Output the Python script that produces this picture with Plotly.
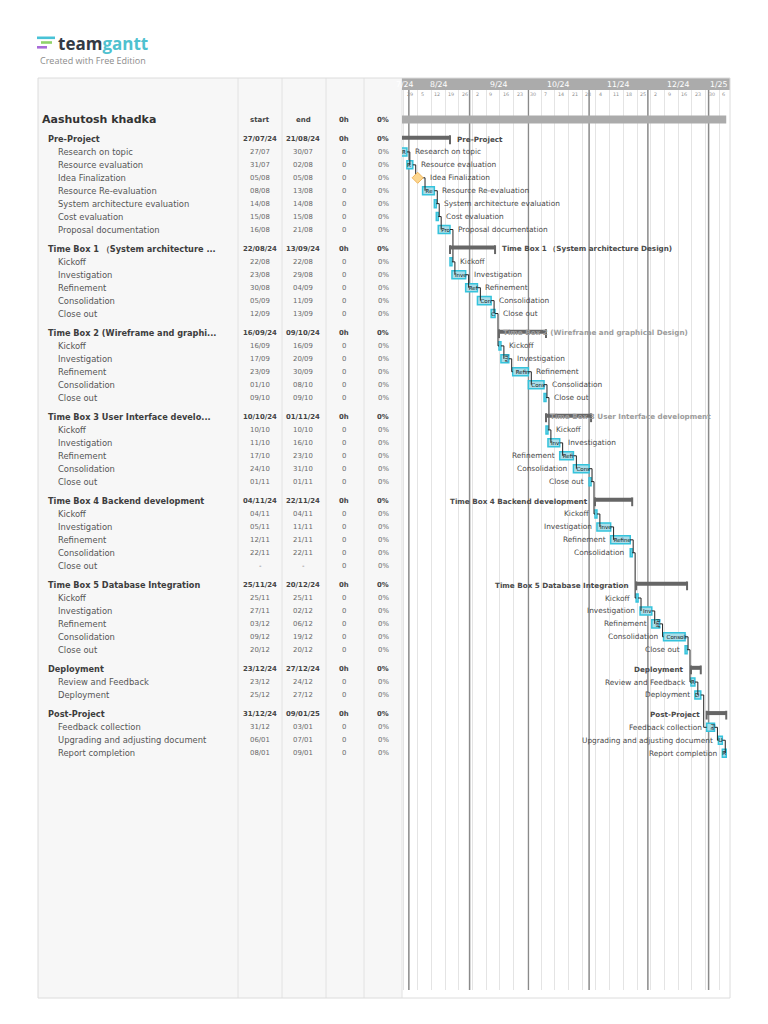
import pandas as pd
import plotly.graph_objects as go

# ---------------- data ----------------
project_name = "Aashutosh khadka"
header_labels = ["start", "end", "0h", "0%"]

group_names = [
    "Pre-Project",
    "Time Box 1 （System architecture Design)",
    "Time Box 2 (Wireframe and graphical Design)",
    "Time Box 3 User Interface development",
    "Time Box 4 Backend development",
    "Time Box 5 Database Integration",
    "Deployment",
    "Post-Project",
]
group_starts = ["2024-07-27", "2024-08-22", "2024-09-16", "2024-10-10",
                "2024-11-04", "2024-11-25", "2024-12-23", "2024-12-31"]
group_ends = ["2024-08-21", "2024-09-13", "2024-10-09", "2024-11-01",
              "2024-11-22", "2024-12-20", "2024-12-27", "2025-01-09"]
group_hours = ["0h"] * 8
group_progress = ["0%"] * 8

task_group = [0] * 7 + [1] * 5 + [2] * 5 + [3] * 5 + [4] * 5 + [5] * 5 + [6] * 2 + [7] * 3
task_names = [
    "Research on topic", "Resource evaluation", "Idea Finalization", "Resource Re-evaluation",
    "System architecture evaluation", "Cost evaluation", "Proposal documentation",
    "Kickoff", "Investigation", "Refinement", "Consolidation", "Close out",
    "Kickoff", "Investigation", "Refinement", "Consolidation", "Close out",
    "Kickoff", "Investigation", "Refinement", "Consolidation", "Close out",
    "Kickoff", "Investigation", "Refinement", "Consolidation", "Close out",
    "Kickoff", "Investigation", "Refinement", "Consolidation", "Close out",
    "Review and Feedback", "Deployment",
    "Feedback collection", "Upgrading and adjusting document", "Report completion",
]
task_starts = [
    "2024-07-27", "2024-07-31", "2024-08-05", "2024-08-08", "2024-08-14", "2024-08-15", "2024-08-16",
    "2024-08-22", "2024-08-23", "2024-08-30", "2024-09-05", "2024-09-12",
    "2024-09-16", "2024-09-17", "2024-09-23", "2024-10-01", "2024-10-09",
    "2024-10-10", "2024-10-11", "2024-10-17", "2024-10-24", "2024-11-01",
    "2024-11-04", "2024-11-05", "2024-11-12", "2024-11-22", None,
    "2024-11-25", "2024-11-27", "2024-12-03", "2024-12-09", "2024-12-20",
    "2024-12-23", "2024-12-25",
    "2024-12-31", "2025-01-06", "2025-01-08",
]
task_ends = [
    "2024-07-30", "2024-08-02", "2024-08-05", "2024-08-13", "2024-08-14", "2024-08-15", "2024-08-21",
    "2024-08-22", "2024-08-29", "2024-09-04", "2024-09-11", "2024-09-13",
    "2024-09-16", "2024-09-20", "2024-09-30", "2024-10-08", "2024-10-09",
    "2024-10-10", "2024-10-16", "2024-10-23", "2024-10-31", "2024-11-01",
    "2024-11-04", "2024-11-11", "2024-11-21", "2024-11-22", None,
    "2024-11-25", "2024-12-02", "2024-12-06", "2024-12-19", "2024-12-20",
    "2024-12-24", "2024-12-27",
    "2025-01-03", "2025-01-07", "2025-01-09",
]
task_hours = ["0"] * len(task_names)
task_progress = ["0%"] * len(task_names)
task_bar_text = [
    "R", "R", "", "Re", "", "", "Pro",
    "", "Inve", "Ref", "Con", "C",
    "", "Inv", "Refin", "Cons", "",
    "", "Inv", "Refi", "Cons", "",
    "", "Inve", "Refine", "", "",
    "", "Inv", "Ref", "Consoli", "",
    "R", "D",
    "Fe", "U", "R",
]
milestone_tasks = ["Idea Finalization"]

# ---------------- style / layout constants ----------------
W, H = 768, 1024
FONT = "DejaVu Sans"
X_START, X_END = "2024-07-28 12:00", "2025-01-11 22:00"
ROW_PX, ROW0_PX = 12.93, 119.6
PLOT_TOP_PX, PLOT_BOT_PX = 90, 990
TABLE_L, TABLE_R, BOX_R, BOX_T, BOX_B = 38, 402, 730, 78, 998
COL_SEPS = [238, 282, 326, 364]
COL_CENTERS = [260, 303, 344, 383]
LEFT_LABEL_FROM = pd.Timestamp("2024-10-17")
GHOST_LABEL_GROUPS = {2, 3}
CONNECTOR_GAP = pd.Timedelta(hours=36)
MILESTONE_HALF = pd.Timedelta(hours=54)
BAR_FILL, BAR_LINE = "#aadde8", "#35c3dc"
BRACKET = "#666666"
DAY = pd.Timedelta(days=1)


def fx(px):
    return px / W


def fy(px):
    return 1 - px / H


def ts(t):
    return t.strftime("%Y-%m-%d %H:%M:%S")


N = len(task_names)
t_start = [pd.Timestamp(s) if s else None for s in task_starts]
t_end = [pd.Timestamp(s) if s else None for s in task_ends]
g_start = [pd.Timestamp(s) for s in group_starts]
g_end = [pd.Timestamp(s) for s in group_ends]
is_ms = [n in milestone_tasks for n in task_names]

# row positions (row units), groups separated by half a row
group_row, task_row = [], [None] * N
r = 0.0
for g in range(len(group_names)):
    r += 1.5
    group_row.append(r)
    for i in range(N):
        if task_group[i] == g:
            r += 1
            task_row[i] = r

fig = go.Figure()

# project summary bar
p_start, p_end = min(g_start), max(g_end)
fig.add_trace(go.Bar(orientation="h", y=[0], base=[ts(p_start)],
                     x=[((p_end + DAY) - p_start).total_seconds() * 1000],
                     width=0.62, marker=dict(color="#ababab", line=dict(width=0)),
                     hoverinfo="skip"))

# task bars
bi = [i for i in range(N) if t_start[i] is not None and not is_ms[i]]
fig.add_trace(go.Bar(
    orientation="h",
    y=[task_row[i] for i in bi],
    base=[ts(t_start[i]) for i in bi],
    x=[((t_end[i] + DAY) - t_start[i]).total_seconds() * 1000 for i in bi],
    width=0.62,
    marker=dict(color=BAR_FILL, line=dict(color=BAR_LINE, width=1.5)),
    text=[task_bar_text[i] for i in bi],
    textposition="inside", insidetextanchor="start", constraintext="none",
    textfont=dict(size=5.5, color="#111111", family=FONT),
    hoverinfo="skip"))


def out_edge(i):
    if is_ms[i]:
        return t_start[i] + DAY / 2 + MILESTONE_HALF
    return t_end[i] + DAY


def in_edge(i):
    if is_ms[i]:
        return t_start[i] + DAY / 2
    return t_start[i]


# dependency connectors
dated = [i for i in range(N) if t_start[i] is not None]
cx, cy = [], []
for a, b in zip(dated[:-1], dated[1:]):
    e = out_edge(a)
    vx = e + CONNECTOR_GAP
    xin = max(vx, in_edge(b))
    cx += [ts(e), ts(vx), ts(vx), ts(xin), None]
    cy += [task_row[a], task_row[a], task_row[b], task_row[b], None]
fig.add_trace(go.Scatter(x=cx, y=cy, mode="lines", line=dict(color="#222222", width=1),
                         hoverinfo="skip"))

# group brackets
hx, hy, vxs, vys = [], [], [], []
for g in range(len(group_names)):
    s, e, rr = g_start[g], g_end[g] + DAY, group_row[g]
    hx += [ts(s), ts(e), None]
    hy += [rr - 0.1, rr - 0.1, None]
    vxs += [ts(s), ts(s), None, ts(e), ts(e), None]
    vys += [rr - 0.28, rr + 0.4, None, rr - 0.28, rr + 0.4, None]
fig.add_trace(go.Scatter(x=hx, y=hy, mode="lines", line=dict(color=BRACKET, width=4),
                         hoverinfo="skip"))
fig.add_trace(go.Scatter(x=vxs, y=vys, mode="lines", line=dict(color=BRACKET, width=2),
                         hoverinfo="skip"))

# milestones
mi = [i for i in range(N) if is_ms[i]]
fig.add_trace(go.Scatter(x=[ts(t_start[i] + DAY / 2) for i in mi], y=[task_row[i] for i in mi],
                         mode="markers",
                         marker=dict(symbol="diamond", size=8.5, color="#fcd68f",
                                     line=dict(color="#f1b55a", width=1)),
                         hoverinfo="skip"))

ann = []


def add_text(text, x, y, xref="paper", yref="y", size=8, color="#555555", bold=False,
             xanchor="left", xshift=0, family=FONT, yanchor="middle"):
    ann.append(dict(text=f"<b>{text}</b>" if bold else text, x=x, y=y, xref=xref, yref=yref,
                    xanchor=xanchor, yanchor=yanchor, showarrow=False, xshift=xshift,
                    font=dict(size=size, color=color, family=family)))


# ---------------- table ----------------
add_text(project_name, fx(39.5), 0, size=11, color="#333333", bold=True)
for k, lab in enumerate(header_labels):
    add_text(lab, fx(COL_CENTERS[k]), 0, size=7, color="#444444", bold=True, xanchor="center")

for g in range(len(group_names)):
    rr = group_row[g]
    name = group_names[g]
    shown = name if len(name) <= 32 else name[:32] + "..."
    add_text(shown, fx(45.5), rr, size=8.2, color="#3d3d3d", bold=True)
    vals = [g_start[g].strftime("%d/%m/%y"), g_end[g].strftime("%d/%m/%y"),
            group_hours[g], group_progress[g]]
    for k, v in enumerate(vals):
        add_text(v, fx(COL_CENTERS[k]), rr, size=6.9, color="#444444", bold=True, xanchor="center")

for i in range(N):
    rr = task_row[i]
    add_text(task_names[i], fx(56), rr, size=8.4, color="#555555")
    vals = [t_start[i].strftime("%d/%m") if t_start[i] is not None else "-",
            t_end[i].strftime("%d/%m") if t_end[i] is not None else "-",
            task_hours[i], task_progress[i]]
    for k, v in enumerate(vals):
        add_text(v, fx(COL_CENTERS[k]), rr, size=6.9, color="#6a6a6a", xanchor="center")

# ---------------- chart labels ----------------
for i in range(N):
    if t_start[i] is None:
        continue
    if t_start[i] >= LEFT_LABEL_FROM:
        add_text(task_names[i], ts(in_edge(i)), task_row[i], xref="x", size=7.4, color="#4a4a4a",
                 xanchor="right", xshift=-3)
    else:
        add_text(task_names[i], ts(out_edge(i)), task_row[i], xref="x", size=7.4, color="#4a4a4a",
                 xanchor="left", xshift=6)

for g in range(len(group_names)):
    rr = group_row[g]
    if g in GHOST_LABEL_GROUPS:
        add_text(group_names[g], ts(g_start[g]), rr, xref="x", size=7.2, color="#9c9c9c",
                 bold=True, xanchor="left", xshift=2)
    elif g_start[g] >= LEFT_LABEL_FROM:
        add_text(group_names[g], ts(g_start[g]), rr, xref="x", size=7.2, color="#4a4a4a",
                 bold=True, xanchor="right", xshift=-5)
    else:
        add_text(group_names[g], ts(g_end[g] + DAY), rr, xref="x", size=7.2, color="#4a4a4a",
                 bold=True, xanchor="left", xshift=5)

# ---------------- timeline header ----------------
x0, x1 = pd.Timestamp(X_START), pd.Timestamp(X_END)
mondays = pd.date_range(x0, x1, freq="W-MON")
for m in mondays:
    add_text(str(m.day), ts(m), fy(94.5), xref="x", yref="paper", size=4.8, color="#8f8f8f",
             xanchor="left", xshift=1)

month_starts = pd.date_range(x0.to_period("M").to_timestamp(), x1, freq="MS")
for ms in month_starts:
    a = max(ms, x0)
    b = min(ms + pd.offsets.MonthBegin(1), x1)
    c = a + (b - a) / 2
    add_text(f"{ms.month}/{ms.strftime('%y')}", ts(c), fy(84.5), xref="x", yref="paper",
             size=7.8, color="#ffffff", xanchor="center")

# ---------------- logo ----------------
add_text("<b>team</b><span style='color:#4fc1cf'><b>gantt</b></span>", fx(56), fy(43),
         yref="paper", size=17, color="#333a44", family="Open Sans")
add_text("Created with Free Edition", fx(37.5), fy(60), yref="paper", size=9, color="#8c8c8c",
         family="Open Sans")

shapes = []
# table background and borders
shapes.append(dict(type="rect", xref="paper", yref="paper", x0=fx(TABLE_L), x1=fx(TABLE_R),
                   y0=fy(BOX_B), y1=fy(BOX_T), fillcolor="#f7f7f7", line=dict(width=0),
                   layer="below"))
for sx in COL_SEPS + [TABLE_R]:
    shapes.append(dict(type="line", xref="paper", yref="paper", x0=fx(sx), x1=fx(sx),
                       y0=fy(BOX_B), y1=fy(BOX_T), line=dict(color="#e2e2e2", width=1),
                       layer="below"))
shapes.append(dict(type="rect", xref="paper", yref="paper", x0=fx(TABLE_L), x1=fx(BOX_R),
                   y0=fy(BOX_B), y1=fy(BOX_T), fillcolor="rgba(0,0,0,0)",
                   line=dict(color="#dcdcdc", width=1), layer="above"))
# header band
shapes.append(dict(type="rect", xref="paper", yref="paper", x0=fx(TABLE_R), x1=fx(BOX_R),
                   y0=fy(90), y1=fy(BOX_T), fillcolor="#ababab", line=dict(width=0),
                   layer="below"))
# month lines
for ms in month_starts:
    if x0 <= ms <= x1:
        shapes.append(dict(type="line", xref="x", yref="paper", x0=ts(ms), x1=ts(ms),
                           y0=fy(PLOT_BOT_PX), y1=fy(PLOT_TOP_PX),
                           line=dict(color="#8a8a8a", width=1.5), layer="below"))
# logo icon
for (a, b, yt, col) in [(37, 55, 36.5, "#48c2d6"), (41, 52, 41.2, "#8fd36a"), (37, 47, 46, "#a86bd8")]:
    shapes.append(dict(type="rect", xref="paper", yref="paper", x0=fx(a), x1=fx(b),
                       y0=fy(yt + 2.6), y1=fy(yt), fillcolor=col, line=dict(width=0)))

y_top = (PLOT_TOP_PX - ROW0_PX) / ROW_PX
y_bot = (PLOT_BOT_PX - ROW0_PX) / ROW_PX

fig.update_layout(
    width=W, height=H, margin=dict(l=0, r=0, t=0, b=0, pad=0),
    paper_bgcolor="#ffffff", plot_bgcolor="#ffffff",
    showlegend=False, hovermode=False, barmode="overlay",
    font=dict(family=FONT),
    annotations=ann, shapes=shapes,
    xaxis=dict(type="date", range=[X_START, X_END], domain=[fx(TABLE_R), fx(BOX_R)],
               tickvals=[ts(m) for m in mondays], showticklabels=False, ticks="",
               showgrid=True, gridcolor="#e4e4e4", gridwidth=1, zeroline=False,
               showline=False, fixedrange=True),
    yaxis=dict(range=[y_bot, y_top], domain=[fy(PLOT_BOT_PX), fy(PLOT_TOP_PX)],
               showgrid=False, zeroline=False, showticklabels=False, ticks="",
               showline=False, fixedrange=True),
)

fig.write_html("out.html", include_plotlyjs=True, config={"displayModeBar": False},
               post_script="document.body.style.margin='0';")
